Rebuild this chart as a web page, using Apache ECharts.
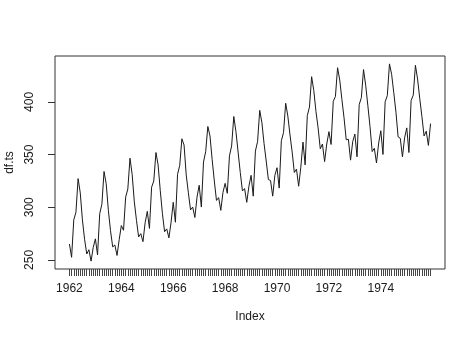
<!DOCTYPE html>
<html>
<head>
<meta charset="utf-8">
<script src="https://cdn.jsdelivr.net/npm/echarts@6/dist/echarts.min.js"></script>
<style>
  html, body { margin: 0; padding: 0; background: #fff; }
  #chart { width: 474px; height: 338px; }
</style>
</head>
<body>
<div id="chart"></div>
<script>
// Monthly series, January 1962 to December 1975
const startYear = 1962;
const monthsPerYear = 12;
const values = [
  265.05, 252.45, 288.00, 295.20, 327.15, 313.65, 288.00, 269.55, 255.60, 259.65, 248.85, 261.90,
  270.00, 254.70, 293.85, 302.85, 333.90, 322.20, 297.00, 277.65, 262.35, 264.15, 254.25, 269.10,
  282.60, 278.10, 309.60, 317.25, 346.50, 331.20, 305.10, 287.55, 271.80, 274.95, 267.30, 285.30,
  296.10, 279.90, 319.05, 324.90, 351.90, 340.20, 315.90, 293.85, 276.75, 279.45, 270.90, 285.75,
  304.65, 285.75, 331.20, 339.75, 364.95, 359.10, 330.75, 313.65, 297.45, 300.15, 290.25, 309.60,
  320.85, 300.15, 342.90, 352.80, 376.65, 367.65, 345.15, 324.90, 306.45, 309.15, 297.00, 314.10,
  322.65, 313.20, 348.75, 358.20, 386.10, 371.70, 352.35, 333.00, 315.45, 317.70, 304.65, 319.95,
  330.30, 310.50, 353.25, 362.25, 391.95, 380.25, 360.45, 343.80, 326.25, 325.35, 310.50, 330.30,
  337.50, 318.15, 363.15, 370.80, 398.70, 386.55, 368.55, 352.35, 333.00, 336.15, 319.95, 337.95,
  361.80, 340.20, 387.00, 395.10, 423.90, 410.85, 391.05, 375.30, 355.50, 360.00, 343.35, 360.00,
  371.70, 359.55, 400.50, 405.00, 432.45, 420.75, 402.30, 384.75, 364.05, 364.50, 344.70, 362.25,
  369.45, 347.85, 397.35, 404.10, 430.65, 415.80, 396.45, 376.65, 352.80, 355.95, 342.00, 360.90,
  372.60, 350.10, 400.05, 405.90, 436.05, 426.15, 408.60, 390.15, 366.75, 365.40, 347.85, 365.85,
  375.30, 351.90, 401.40, 406.35, 434.70, 421.65, 403.20, 386.10, 367.65, 372.15, 358.65, 379.35
];
const xLabelYears = [1962, 1964, 1966, 1968, 1970, 1972, 1974];
const yTicks = [250, 300, 350, 400];

// Time index of every observation
const times = values.map((v, i) => startYear + i / monthsPerYear);
const points = values.map((v, i) => [times[i], v]);

// Axis ranges padded by 4% on each side
const pad = (lo, hi) => [lo - 0.04 * (hi - lo), hi + 0.04 * (hi - lo)];
const [xMin, xMax] = pad(Math.min(...times), Math.max(...times));
const [yMin, yMax] = pad(Math.min(...values), Math.max(...values));

const font = 'Liberation Sans, Arial, sans-serif';
const ink = '#1a1a1a';

const chart = echarts.init(document.getElementById('chart'), null, { renderer: 'canvas' });
chart.setOption({
  animation: false,
  backgroundColor: '#fff',
  grid: {
    left: 55, right: 29, top: 56, bottom: 69,
    containLabel: false,
    outerBoundsMode: 'none',
    show: true, borderColor: '#333', borderWidth: 1, backgroundColor: 'transparent'
  },
  xAxis: {
    type: 'value',
    min: xMin, max: xMax,
    name: 'Index',
    nameLocation: 'middle',
    nameGap: 42,
    nameTextStyle: { color: ink, fontFamily: font, fontSize: 12 },
    axisLine: { show: false },
    splitLine: { show: false },
    axisTick: {
      show: true, inside: false, length: 7,
      customValues: times,
      lineStyle: { color: '#444', width: 1 }
    },
    axisLabel: {
      customValues: xLabelYears,
      margin: 14,
      color: ink, fontFamily: font, fontSize: 12,
      formatter: v => String(Math.round(v))
    }
  },
  yAxis: {
    type: 'value',
    min: yMin, max: yMax,
    name: 'df.ts',
    nameLocation: 'middle',
    nameRotate: 90,
    nameGap: 36,
    nameTextStyle: { color: ink, fontFamily: font, fontSize: 12 },
    axisLine: { show: false },
    splitLine: { show: false },
    axisTick: {
      show: true, inside: false, length: 7,
      customValues: yTicks,
      lineStyle: { color: '#333', width: 1 }
    },
    axisLabel: {
      customValues: yTicks,
      rotate: 90,
      margin: 19,
      color: ink, fontFamily: font, fontSize: 12
    }
  },
  series: [{
    type: 'line',
    data: points,
    showSymbol: false,
    symbol: 'none',
    lineStyle: { color: '#1a1a1a', width: 1 },
    emphasis: { disabled: true }
  }]
});
</script>
</body>
</html>
